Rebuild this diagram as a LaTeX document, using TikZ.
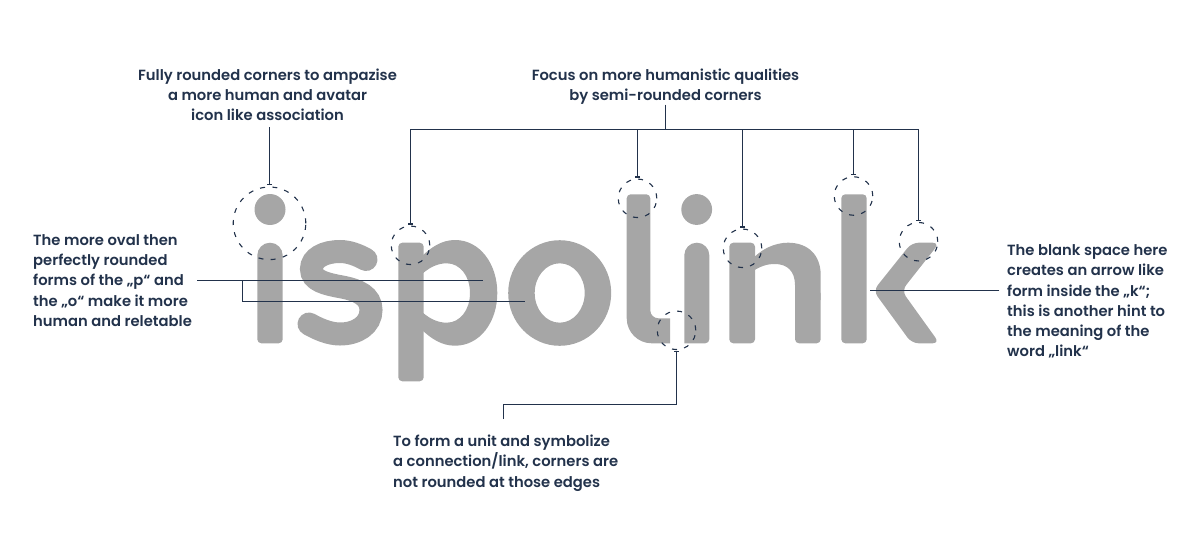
\documentclass[tikz,border=0pt]{standalone}
\usepackage{fontspec}
\setmainfont{Poppins SemiBold}
\usetikzlibrary{arrows.meta,positioning}
\definecolor{inkgray}{HTML}{A6A6A6}
\definecolor{navy}{HTML}{22324B}
\tikzset{
 ink/.style
  = {fill=inkgray, draw=none},
 stroke/.style
  = {draw=inkgray, line width=23pt, line cap=round},
 spot/.style
  = {circle, draw=navy, line width=1.1pt, dash pattern=on 5pt off 7.3pt, inner sep=0pt, minimum size=38.5pt},
 bigspot/.style
  = {spot, minimum size=72.6pt},
 note/.style
  = {font=\fontsize{14.75}{20.2}\selectfont, text=navy, inner sep=0pt},
 tie/.style
  = {draw=navy, line width=1.2pt},
 tick/.style
  = {tie, -{Bar[width=5pt,line width=1.2pt]}},
}

\begin{document}
\begin{tikzpicture}[x=1pt,y=-1pt]
    \useasboundingbox (0,0) rectangle (1200,543);

    % the word
    \fill [ink] (270,209.5) circle [radius=15.5pt];
    \fill [ink] (257.3,280) [rounded corners=4pt] -- (257.3,343.3) -- (282.7,343.3) -- (282.7,280) [rounded corners=12.7pt] -- (282.7,242.7) -- (257.3,242.7) -- cycle;
    \path [stroke] (366,259.5) .. controls (358,255) and (349,251.5) .. (340,251.5)
      .. controls (324,251.5) and (311.5,258) .. (311.5,269)
      .. controls (311.5,281) and (326,284) .. (342,287)
      .. controls (358,290) and (371,296) .. (371,310)
      .. controls (371,325) and (357,334) .. (340,334)
      .. controls (329,334) and (318,329) .. (309,324);
    \fill [ink, rounded corners=4pt] (398.3,242.7) rectangle (423.7,381.3);
    \fill [ink, even odd rule] (420,258) .. controls (431,247) and (442,240) .. (455,240)
      .. controls (480,240) and (497.3,264) .. (497.3,293)
      .. controls (497.3,322) and (480,345.7) .. (455,345.7)
      .. controls (442,345.7) and (431,339) .. (420,328) -- cycle
      (420,276) .. controls (428,268) and (437,263.3) .. (446.7,263.3)
      .. controls (460,263.3) and (470,276) .. (470,293)
      .. controls (470,310) and (460,322.7) .. (446.7,322.7)
      .. controls (437,322.7) and (428,318) .. (420,310) -- cycle;
    \fill [ink, even odd rule] (559.7,293) ellipse [x radius=51.5pt, y radius=52.8pt]
      (559.7,293) ellipse [x radius=25pt, y radius=29.7pt];
    \fill [ink] (670,343.3) [rounded corners=25pt] -- (626.7,343.3) [rounded corners=4pt] -- (626.7,194.3) -- (650.3,194.3) [rounded corners=8pt] -- (650.3,318.3) [sharp corners] -- (670,318.3) -- cycle;
    \fill [ink] (684.3,343.3) [rounded corners=4pt] -- (709.3,343.3) [rounded corners=12.5pt] -- (709.3,242.7) -- (684.3,242.7) [sharp corners] -- cycle;
    \fill [ink] (696.7,209.5) circle [radius=15.4pt];
    \fill [ink, rounded corners=4pt] (729.3,242.7) rectangle (755,343.3);
    \fill [ink, even odd rule] (750,262) .. controls (760,249) and (775,242.7) .. (788,242.7)
      .. controls (808,242.7) and (820.7,255) .. (820.7,275) -- (820.7,300) -- (795,300) -- (795,285)
      .. controls (795,271) and (787,264) .. (775,264)
      .. controls (767,264) and (760,266) .. (750,273) -- cycle;
    \fill [ink, rounded corners=4pt] (795,290) rectangle (820.7,343.3);
    \fill [ink, rounded corners=4pt] (841.3,194.3) rectangle (866.7,343.3);
    \fill [ink, rounded corners=7pt] (911.7,242.7) -- (939.5,242.7) -- (901.7,290.7) -- (939.5,343.3) -- (911.7,343.3) -- (873.3,290.7) -- cycle;

    % notes
    \node [note, align=center, anchor=south] (round) at (267.5,121) {Fully rounded corners to ampazise\\a more human and avatar\\icon like association};
    \node [note, align=center, anchor=south] (focus) at (665.5,104.5) {Focus on more humanistic qualities\\by semi-rounded corners};
    \node [note, align=left, anchor=west] (oval) at (33,280.5) {The more oval then\\perfectly rounded\\forms of the „p“ and\\the „o“ make it more\\human and reletable};
    \node [note, align=left, anchor=west] (arrow) at (1007,301.5) {The blank space here\\creates an arrow like\\form inside the „k“;\\this is another hint to\\the meaning of the\\word „link“};
    \node [note, align=left, anchor=north west] (unit) at (393,435) {To form a unit and symbolize\\a connection/link, corners are\\not rounded at those edges};

    % circled details
    \node [bigspot] (dot) at (269.5,223.3) {};
    \node [spot] (stemp) at (410.5,245.3) {};
    \node [spot] (steml) at (637.5,198.3) {};
    \node [spot] (stemn) at (742.5,248.3) {};
    \node [spot] (stemk) at (853.5,196) {};
    \node [spot] (armk) at (918.5,241.7) {};
    \node [spot] (gap) at (676.5,330.3) {};

    % free ends of the connectors
    \coordinate (bar) at (665.5,129.5);
    \coordinate (turn) at (503.5,404.5);
    \coordinate (turnend) at (503.5,419);
    \coordinate (roundend) at (269.5,127);
    \coordinate (ovalend) at (197,280.5);
    \coordinate (fork) at (242.5,280.5);
    \coordinate (inp) at (483.3,280.5);
    \coordinate (ino) at (524.7,301.5);
    \coordinate (ink) at (870,290.5);
    \coordinate (arrowend) at (999.3,290.5);

    \draw [tick] (roundend) -- ([yshift=1pt]dot.north);
    \draw [tie] (focus.south) -- (bar);
    \draw [tick] (bar) -| ([yshift=1pt]stemp.north);
    \draw [tick] (bar) -| ([yshift=1pt]steml.north);
    \draw [tick] (bar) -| ([yshift=1pt]stemn.north);
    \draw [tick] (bar) -| ([yshift=1pt]stemk.north);
    \draw [tick] (bar) -| ([yshift=1pt]armk.north);
    \draw [tick] (turnend) |- (turn) -| ([yshift=-1pt]gap.south);
    \draw [tie] (ovalend) -- (inp);
    \draw [tie] (fork) |- (ino);
    \draw [tie] (arrowend) -- (ink);
\end{tikzpicture}
\end{document}
